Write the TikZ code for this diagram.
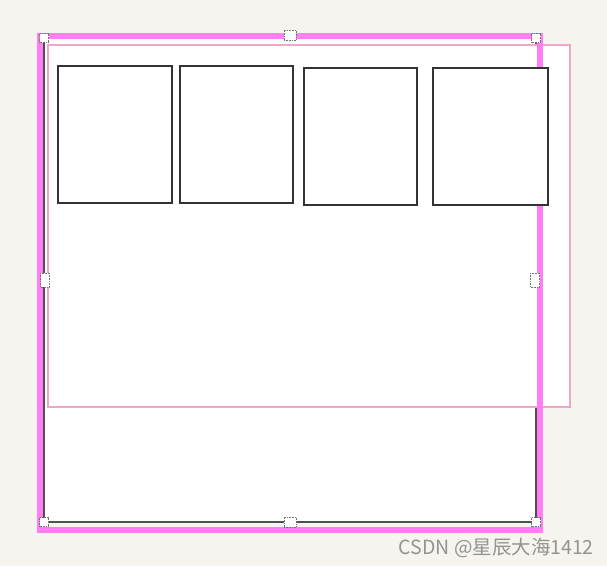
\documentclass[tikz,border=0pt]{standalone}
\usepackage{fontspec}
\newfontfamily\cjk{Noto Sans CJK SC}
\definecolor{bg}{HTML}{F5F4EF}
\definecolor{mag}{HTML}{FF7EF5}
\definecolor{pinkl}{HTML}{F0A6C8}
\definecolor{grayline}{HTML}{505050}
\definecolor{wm}{HTML}{939393}
\tikzset{
  pane/.style={draw=black!80, line width=1.4pt, fill=white},
  handle/.style={draw=black!55, densely dotted, line width=0.6pt, fill=white, minimum width=12pt, minimum height=10pt, inner sep=0pt},
}
\begin{document}
\begin{tikzpicture}[x=1pt,y=-1pt]
\useasboundingbox (0,0) rectangle (607,566);
\fill[bg] (0,0) rectangle (607,566);
% outer gray frame
\draw[grayline, line width=1.8pt, fill=white] (44,38) rectangle (536,522);
% pink thin rectangle
\draw[pinkl, line width=1.2pt, fill=white] (48,45) rectangle (570,407);
% magenta selection
\draw[mag, line width=5.5pt] (40,36) rectangle (540,530);
% inner panes
\draw[pane] (58,66) rectangle (172,203);
\draw[pane] (180,66) rectangle (293,203);
\draw[pane] (304,68) rectangle (417,205);
\draw[pane] (433,68) rectangle (548,205);
% handles
\node[handle] (h1) at (290,35) {};
\node[handle] (h2) at (290,522) {};
\node[handle, minimum width=9pt, minimum height=14pt] (h3) at (45,280) {};
\node[handle, minimum width=9pt, minimum height=14pt] (h4) at (535,280) {};
\node[handle, minimum width=9pt, minimum height=9pt] (h5) at (44,38) {};
\node[handle, minimum width=9pt, minimum height=9pt] (h6) at (536,38) {};
\node[handle, minimum width=9pt, minimum height=9pt] (h7) at (44,522) {};
\node[handle, minimum width=9pt, minimum height=9pt] (h8) at (536,522) {};
% watermark
\node[text=wm, font=\cjk\fontsize{19.5}{22}\selectfont, anchor=east, inner sep=0pt] (wm) at (594,548) {CSDN @星辰大海1412};
\end{tikzpicture}
\end{document}
